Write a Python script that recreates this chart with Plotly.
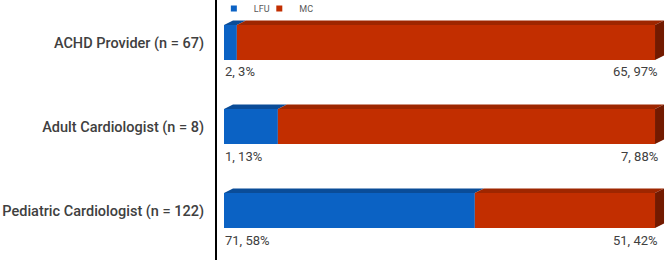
import plotly.graph_objects as go

# ---- data ----
categories = ["ACHD Provider (n = 67)", "Adult Cardiologist (n = 8)", "Pediatric Cardiologist (n = 122)"]
lfu_counts = [2, 1, 71]
mc_counts = [65, 7, 51]
lfu_pct_labels = [3, 13, 58]
mc_pct_labels = [97, 88, 42]
series_names = ["LFU", "MC"]

# ---- style ----
BLUE, BLUE_TOP = "#0B62C4", "#0A4C98"
RED, RED_TOP, RED_SIDE = "#C22E00", "#9E2600", "#731A00"
FONT = "Roboto, Arial, sans-serif"
TXT = "#404040"

n = len(categories)
ypos = [n - 1 - i for i in range(n)]  # first category on top
bar_h = 0.417
dx, dy = 2.09, 0.054

fig = go.Figure()

lfu_share = [100 * a / (a + b) for a, b in zip(lfu_counts, mc_counts)]
mc_share = [100 - s for s in lfu_share]

fig.add_trace(go.Bar(y=ypos, x=lfu_share, base=[0] * n, orientation="h", width=bar_h,
                     marker=dict(color=BLUE, line=dict(width=0)), showlegend=False, hoverinfo="skip"))
fig.add_trace(go.Bar(y=ypos, x=mc_share, base=lfu_share, orientation="h", width=bar_h,
                     marker=dict(color=RED, line=dict(width=0)), showlegend=False, hoverinfo="skip"))

# 3D faces
for yc, s1, s2 in zip(ypos, lfu_share, mc_share):
    yt = yc + bar_h / 2
    yb = yc - bar_h / 2
    segs = [(0, s1, BLUE_TOP), (s1, s1 + s2, RED_TOP)]
    for x0, x1, col in segs:
        fig.add_trace(go.Scatter(x=[x0, x1, x1 + dx, x0 + dx, x0], y=[yt, yt, yt + dy, yt + dy, yt],
                                 fill="toself", fillcolor=col, mode="lines", line=dict(width=0),
                                 showlegend=False, hoverinfo="skip"))
    xe = s1 + s2
    fig.add_trace(go.Scatter(x=[xe, xe + dx, xe + dx, xe, xe], y=[yt, yt + dy, yb + dy, yb, yt],
                             fill="toself", fillcolor=RED_SIDE, mode="lines", line=dict(width=0),
                             showlegend=False, hoverinfo="skip"))

# legend entries (one legend box per series for tight spacing)
for name, col, lg in zip(series_names, [BLUE, RED], ["legend", "legend2"]):
    fig.add_trace(go.Scatter(x=[None], y=[None], mode="markers", name=name, legend=lg,
                             marker=dict(symbol="square", size=6, color=col)))

# data labels
for yc, a, b, pa, pb in zip(ypos, lfu_counts, mc_counts, lfu_pct_labels, mc_pct_labels):
    fig.add_annotation(x=0, y=yc - 0.351, text=f"{a}, {pa}%", showarrow=False, xanchor="left",
                       yanchor="middle", font=dict(family=FONT, size=13, color=TXT), xshift=-1)
    fig.add_annotation(x=100, y=yc - 0.351, text=f"{b}, {pb}%", showarrow=False, xanchor="right",
                       yanchor="middle", font=dict(family=FONT, size=13, color=TXT), xshift=5)

leg_common = dict(orientation="h", xanchor="left", y=1.023, yanchor="top",
                  font=dict(size=9, color="#595959"), bgcolor="rgba(0,0,0,0)",
                  itemwidth=30, tracegroupgap=0)

fig.update_layout(
    width=667, height=260,
    margin=dict(l=217, r=0, t=0, b=0, autoexpand=False),
    paper_bgcolor="white", plot_bgcolor="white",
    barmode="overlay",
    font=dict(family=FONT, color=TXT),
    legend=dict(x=-0.007, **leg_common),
    legend2=dict(x=0.094, **leg_common),
    xaxis=dict(range=[-1.624, 102.78], visible=False, fixedrange=True, automargin=False),
    yaxis=dict(range=[-0.589, 2.506], tickmode="array", tickvals=ypos, ticktext=categories,
               showline=True, linecolor="#000000", linewidth=2, showgrid=False, zeroline=False,
               ticks="", ticklabelstandoff=8, automargin=False,
               tickfont=dict(family=FONT, size=14.5, color=TXT, weight=500), fixedrange=True),
)

fig.write_html("out.html", config={"displayModeBar": False},
               post_script="document.body.style.margin='0';document.body.style.overflow='hidden';")
